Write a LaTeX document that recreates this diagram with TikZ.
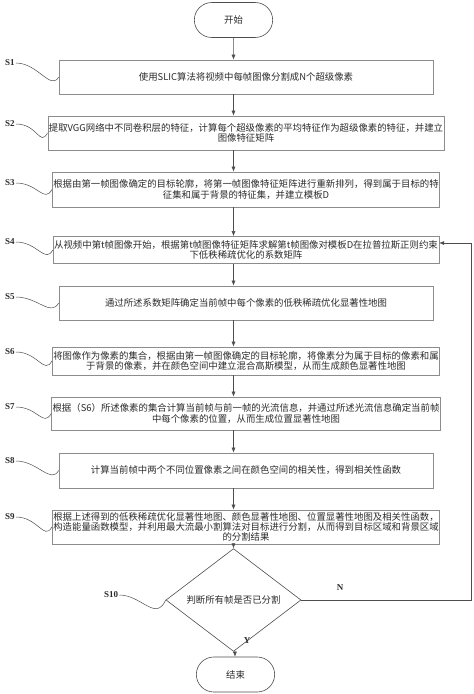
\documentclass[tikz,border=0pt]{standalone}
\usepackage{fontspec}
\setmainfont{Liberation Serif}
\newfontfamily\cjk{Noto Sans CJK SC}
\usepackage{tikz}
\usetikzlibrary{arrows.meta, positioning, shapes.geometric, shapes.misc, calc}
\definecolor{Ink}{HTML}{2B2B2B}
\definecolor{Line}{HTML}{8C8C8C}
\definecolor{Wire}{HTML}{4D4D4D}

\begin{document}
\begin{tikzpicture}[
  x=1pt, y=-1pt,
  font=\cjk\fontsize{9.4}{10.4}\selectfont,
  stepbox/.style={draw=Line, line width=0.7pt, minimum width=374pt, align=center, text=Ink, inner sep=1pt},
  terminal/.style={rounded rectangle, draw=Wire, line width=0.6pt, minimum width=85pt, minimum height=35pt, text=Ink},
  decide/.style={diamond, draw=Wire, line width=0.6pt, minimum width=135pt, minimum height=68pt, inner sep=0pt, text=Ink},
  tag/.style={font=\rmfamily\bfseries\fontsize{9}{10}\selectfont, text=Ink, inner sep=1pt},
  wave/.style={draw=Wire, line width=0.5pt},
  arrow/.style={-{Latex[length=5pt, width=4pt]}, draw=Wire, line width=0.5pt}
]
\useasboundingbox (0,0) rectangle (474,694);
\node[terminal] (start) at (233.5,20) {开始};
\node[stepbox, minimum height=34pt] (s1) at (246,77) {使用SLIC算法将视频中每帧图像分割成N个超级像素};
\node[stepbox, minimum height=34pt] (s2) at (246,133) {提取VGG网络中不同卷积层的特征，计算每个超级像素的平均特征作为超级像素的特征，并建立\\图像特征矩阵};
\node[stepbox, minimum height=35pt] (s3) at (246,189.5) {根据由第一帧图像确定的目标轮廓，将第一帧图像特征矩阵进行重新排列，得到属于目标的特\\征集和属于背景的特征集，并建立模板D};
\node[stepbox, minimum height=27pt] (s4) at (246,250) {从视频中第t帧图像开始，根据第t帧图像特征矩阵求解第t帧图像对模板D在拉普拉斯正则约束\\下低秩稀疏优化的系数矩阵};
\node[stepbox, minimum height=34pt] (s5) at (246,303) {通过所述系数矩阵确定当前帧中每个像素的低秩稀疏优化显著性地图};
\node[stepbox, minimum height=28pt] (s6) at (246,361) {将图像作为像素的集合，根据由第一帧图像确定的目标轮廓，将像素分为属于目标的像素和属\\于背景的像素，并在颜色空间中建立混合高斯模型，从而生成颜色显著性地图};
\node[stepbox, minimum height=33pt] (s7) at (246,413.5) {根据（S6）所述像素的集合计算当前帧与前一帧的光流信息，并通过所述光流信息确定当前帧\\中每个像素的位置，从而生成位置显著性地图};
\node[stepbox, minimum height=35pt] (s8) at (246,470.5) {计算当前帧中两个不同位置像素之间在颜色空间的相关性，得到相关性函数};
\node[stepbox, minimum height=34pt] (s9) at (246,527) {根据上述得到的低秩稀疏优化显著性地图、颜色显著性地图、位置显著性地图及相关性函数，\\构造能量函数模型，并利用最大流最小割算法对目标进行分割，从而得到目标区域和背景区域\\的分割结果};
\node[decide] (d) at (233.5,600) {判断所有帧是否已分割};
\node[terminal] (end) at (235.5,674.5) {结束};

% step tags
\node[tag, anchor=west] (l1) at (4,63) {S1};
\node[tag, anchor=west] (l2) at (4,124) {S2};
\node[tag, anchor=west] (l3) at (4,183) {S3};
\node[tag, anchor=west] (l4) at (4,242) {S4};
\node[tag, anchor=west] (l5) at (4,297) {S5};
\node[tag, anchor=west] (l6) at (4,352) {S6};
\node[tag, anchor=west] (l7) at (4,407) {S7};
\node[tag, anchor=west] (l8) at (4,461) {S8};
\node[tag, anchor=west] (l9) at (4,517) {S9};
\node[tag, anchor=west] (l10) at (103,595) {S10};
\node[tag] (no) at (340,588) {N};
\node[tag] (yes) at (247,641) {Y};

\draw[wave] (l1.east) .. controls +(22,0) and +(-8,14) .. (s1.west);
\draw[wave] (l2.east) .. controls +(22,0) and +(-8,14) .. (s2.west);
\draw[wave] (l3.east) .. controls +(22,0) and +(-8,14) .. (s3.west);
\draw[wave] (l4.east) .. controls +(22,0) and +(-8,14) .. (s4.west);
\draw[wave] (l5.east) .. controls +(22,0) and +(-8,14) .. (s5.west);
\draw[wave] (l6.east) .. controls +(22,0) and +(-8,14) .. (s6.west);
\draw[wave] (l7.east) .. controls +(22,0) and +(-8,14) .. (s7.west);
\draw[wave] (l8.east) .. controls +(22,0) and +(-8,14) .. (s8.west);
\draw[wave] (l9.east) .. controls +(22,0) and +(-8,14) .. (s9.west);
\draw[wave] (l10.east) .. controls +(22,0) and +(-10,22) .. (d.west);

\draw[arrow] (start) -- (s1.north -| start);
\draw[arrow] (s1.south -| start) -- (s2.north -| start);
\draw[arrow] (s2.south -| start) -- (s3.north -| start);
\draw[arrow] (s3.south -| start) -- (s4.north -| start);
\draw[arrow] (s4.south -| start) -- (s5.north -| start);
\draw[arrow] (s5.south -| start) -- (s6.north -| start);
\draw[arrow] (s6.south -| start) -- (s7.north -| start);
\draw[arrow] (s7.south -| start) -- (s8.north -| start);
\draw[arrow] (s8.south -| start) -- (s9.north -| start);
\draw[arrow] (s9.south -| start) -- (d);
\draw[arrow] (d) -- (end);
\coordinate (back) at (471,243);
\draw[arrow] (d.east) -| (back) -- (back -| s4.east);
\end{tikzpicture}
\end{document}
